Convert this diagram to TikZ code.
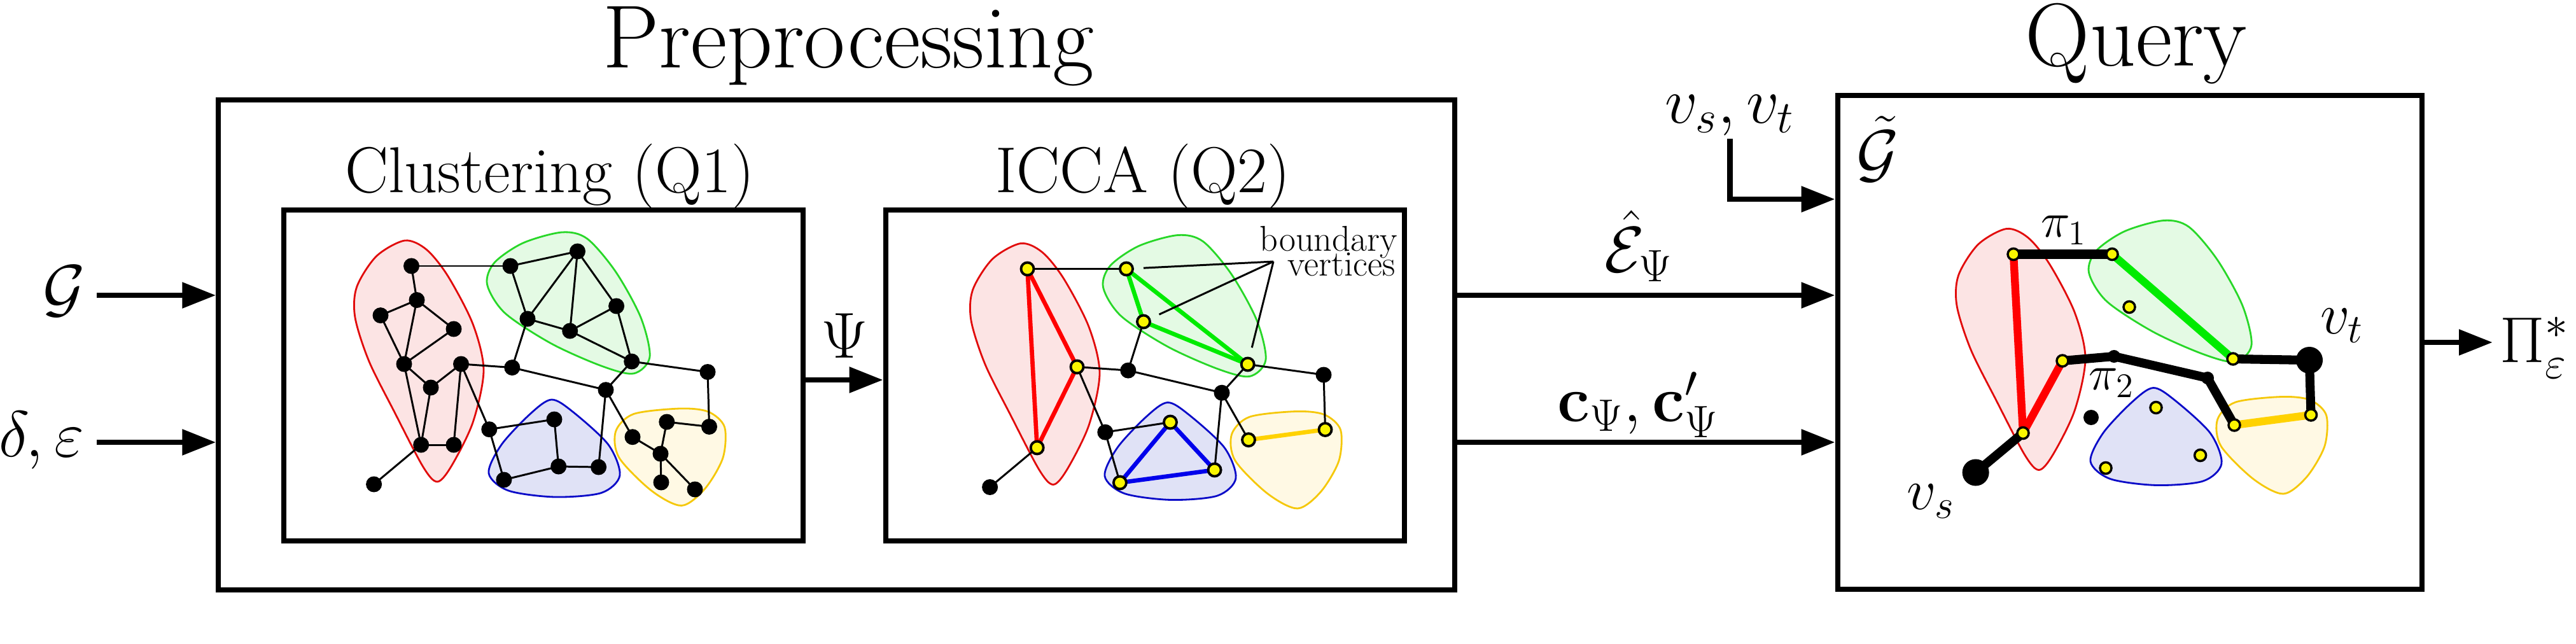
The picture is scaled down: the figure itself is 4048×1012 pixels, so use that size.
\RequirePackage{fix-cm}
\documentclass[tikz,border=0pt]{standalone}
\usetikzlibrary{arrows.meta,calc}
\definecolor{redS}{RGB}{225,10,10}
\definecolor{redF}{RGB}{252,228,228}
\definecolor{greenS}{RGB}{40,215,40}
\definecolor{greenF}{RGB}{228,250,228}
\definecolor{blueS}{RGB}{10,10,200}
\definecolor{blueF}{RGB}{224,226,246}
\definecolor{yelS}{RGB}{245,200,10}
\definecolor{yelF}{RGB}{255,249,228}
\definecolor{redE}{RGB}{255,0,0}
\definecolor{greenE}{RGB}{0,235,0}
\definecolor{blueE}{RGB}{0,0,235}
\definecolor{yelE}{RGB}{255,210,0}
\definecolor{nodeY}{RGB}{250,245,0}
\pgfdeclarelayer{blobl}
\pgfdeclarelayer{edgel}
\pgfsetlayers{blobl,edgel,main}
\newcommand\myblobs{%
\begin{pgfonlayer}{blobl}
\filldraw[blob,draw=redS,fill=redF] plot[smooth cycle] coordinates {(636,378) (591.5,402.6) (560.6,451) (558,499) (580,568) (619.6,647) (664.5,733) (687,757) (709,733) (743,664) (760,582) (743,509) (703.7,433.6) (670,392)};
\filldraw[blob,draw=greenS,fill=greenF] plot[smooth cycle] coordinates {(883,365) (821.6,382) (776.7,413) (765.5,447) (793.5,492) (866.5,540) (945,575) (995.5,587) (1021,561) (1007,499) (967.5,427) (922.6,375)};
\filldraw[blob,draw=blueS,fill=blueF] plot[smooth cycle] coordinates {(866.5,628) (833,650.6) (788,698.8) (768,743.6) (799,771) (872,781) (945,774.5) (974,747) (956,698.8) (900,647)};
\filldraw[blob,draw=yelS,fill=yelF] plot[smooth cycle] coordinates {(1068.5,642) (995.6,650.6) (967.5,678) (973,719.4) (1023.6,771) (1071,794.5) (1108,767.7) (1136,719.4) (1138.6,671) (1113,647)};
\end{pgfonlayer}}
\def\boundarylist{a1/646.5/418, a6/724.5/572, a8/661.7/699, g1/802/418, g3/829/501, g6/992.7/568, b1/871/659, b3/940.6/734, b4/791.9/754, y1/994/686.7, y3/1114.5/670.5}
\def\outsidelist{a10/587.6/761, m1/804.8/577.6, m2/952/612.7, m3/1112/584.5, b0/768.8/674.7}
\def\interiorlist{a2/655/471.5, a3/598/495.6, a4/713/517, a5/635/572, a7/677/609, a9/713/699, g2/907.5/395, g4/968.6/481, g5/895.7/520, b2/877.7/733, y2/1047.8/663, y4/1038/713, y5/1039/758, y6/1092/769}
\begin{document}
\begin{tikzpicture}[x=0.01cm,y=-0.01cm,
  every node/.style={font=\fontsize{29}{34}\selectfont,inner sep=0pt},
  titlef/.style={font=\fontsize{40}{48}\selectfont},
  box/.style={draw,line width=2.3pt,inner sep=0pt},
  arr/.style={line width=2.5pt,-{Triangle[length=0.53cm,width=0.39cm]}},
  ce/.style={line width=0.85pt},
  bk/.style={circle,fill=black,inner sep=0pt,minimum size=0.25cm},
  yb/.style={circle,fill=nodeY,draw=black,line width=1.1pt,inner sep=0pt,minimum size=0.2cm},
  qy/.style={circle,fill=nodeY,draw=black,line width=1pt,inner sep=0pt,minimum size=0.18cm},
  blob/.style={line width=0.8pt},
  icol/.style={line width=1.9pt},
  qpath/.style={line width=4pt,line cap=round,line join=round},
  qcol/.style={line width=3.5pt,line cap=round}]
\useasboundingbox (0,0) rectangle (4048,1012);
% titles
\node[titlef,anchor=base] (t1) at (1333,106) {Preprocessing};
\node[titlef,anchor=base] (t2) at (3357,103) {Query};
% boxes
\node[box,minimum width=19.41cm,minimum height=7.70cm] (pre) at (1314.5,542) {};
\node[box,minimum width=8.16cm,minimum height=5.2cm] (clu) at (854,590) {};
\node[box,minimum width=8.15cm,minimum height=5.2cm] (icca) at (1799.5,590) {};
\node[box,minimum width=9.18cm,minimum height=7.76cm] (qry) at (3347,538) {};
\node[anchor=base] (clut) at (864,302) {Clustering (Q1)};
\node[anchor=base] (iccat) at (1796,302) {ICCA (Q2)};
% clustering graph
\begin{scope}[name prefix=c-]
\myblobs
\foreach \n/\x/\y in \boundarylist {\node[bk] (\n) at (\x,\y) {};}
\foreach \n/\x/\y in \outsidelist {\node[bk] (\n) at (\x,\y) {};}
\foreach \n/\x/\y in \interiorlist {\node[bk] (\n) at (\x,\y) {};}
\begin{pgfonlayer}{edgel}
\foreach \a/\b in {a1/g1,a1/a2,a2/a3,a2/a4,a2/a5,a3/a5,a4/a5,a5/a7,a5/a8,a7/a6,a7/a8,a6/a9,a8/a9,a8/a10,a6/m1,a6/b0,g1/g2,g1/g3,g2/g3,g2/g5,g2/g4,g3/g5,g4/g5,g4/g6,g5/g6,g3/m1,m1/m2,m2/g6,g6/m3,m3/y3,m2/b3,m2/y1,b0/b1,b0/b4,b1/b2,b2/b4,b2/b3,y1/y4,y2/y3,y2/y4,y4/y5,y4/y6}
  {\draw[ce] (\a.center) -- (\b.center);}
\end{pgfonlayer}
\end{scope}
% ICCA graph
\begin{scope}[shift={(968,4.5)},name prefix=i-]
\myblobs
\foreach \n/\x/\y in \boundarylist {\node[yb] (\n) at (\x,\y) {};}
\foreach \n/\x/\y in \outsidelist {\node[bk] (\n) at (\x,\y) {};}
\begin{pgfonlayer}{edgel}
\foreach \a/\b in {a1/g1,g3/m1,a6/m1,m1/m2,m2/g6,g6/m3,m3/y3,a6/b0,b0/b1,b0/b4,m2/b3,m2/y1,a8/a10}
  {\draw[ce] (\a.center) -- (\b.center);}
\foreach \a/\b in {a1/a6,a1/a8,a6/a8} {\draw[icol,redE] (\a.center) -- (\b.center);}
\foreach \a/\b in {g1/g3,g1/g6,g3/g6} {\draw[icol,greenE] (\a.center) -- (\b.center);}
\foreach \a/\b in {b1/b3,b1/b4,b4/b3} {\draw[icol,blueE] (\a.center) -- (\b.center);}
\draw[icol,yelE] (y1.center) -- (y3.center);
\end{pgfonlayer}
\end{scope}
% boundary vertices label
\node[anchor=base east,font=\fontsize{16}{19}\selectfont] (bd1) at (2196,394) {boundary};
\node[anchor=base east,font=\fontsize{16}{19}\selectfont] (bd2) at (2193,433) {vertices};
\coordinate (bvo) at (2001,411);
\foreach \t in {i-g1,i-g3,i-g6} {\draw[ce,shorten >=0.27cm] (bvo) -- (\t.center);}
% query graph
\begin{scope}[name prefix=q-]
\begin{scope}[shift={(2517,-18.5)}]
\myblobs
\end{scope}
\foreach \n/\x/\y in {a1/3164/399.5, g1/3319/399.5, g3/3346/482.5, a6/3241/567, g6/3509/564, y3/3631.5/652, y1/3511/668, a8/3179/680.5, b1/3388/640.5, b3/3457.6/715.5, b4/3309/735.5}
  {\node[qy] (\n) at (\x,\y) {};}
\node[bk,minimum size=0.2cm] (m1) at (3322,560) {};
\node[bk,minimum size=0.2cm] (m2) at (3469,594) {};
\node[bk,minimum size=0.24cm] (b0) at (3286,656) {};
\node[bk,minimum size=0.42cm] (vs) at (3104.6,742.5) {};
\node[bk,minimum size=0.42cm] (vt) at (3629,566) {};
\begin{pgfonlayer}{edgel}
\foreach \a/\b in {vs/a8,a1/g1,g6/vt,a6/m1,m1/m2,m2/y1,y3/vt} {\draw[qpath] (\a.center) -- (\b.center);}
\draw[qcol,redE] (a8.center) -- (a1.center);
\draw[qcol,redE] (a8.center) -- (a6.center);
\draw[qcol,greenE] (g1.center) -- (g6.center);
\draw[qcol,yelE] (y1.center) -- (y3.center);
\end{pgfonlayer}
\end{scope}
\node[anchor=north west] (gt) at (2917,182) {$\tilde{\mathcal{G}}$};
\node[font=\fontsize{22}{26}\selectfont] (p1) at (3243,362) {$\pi_1$};
\node[font=\fontsize{22}{26}\selectfont] (p2) at (3318,602) {$\pi_2$};
\node[font=\fontsize{26}{31}\selectfont] (lvt) at (3680,512) {$v_t$};
\node[font=\fontsize{26}{31}\selectfont] (lvs) at (3034,788) {$v_s$};
% inputs
\coordinate (rowA) at (0,464);
\coordinate (rowB) at (0,695);
\node[anchor=east,inner xsep=0.17cm,inner ysep=0pt] (G) at (152,458) {$\mathcal{G}$};
\node[anchor=base east,inner xsep=0.19cm,inner ysep=0pt] (de) at (152,717) {$\delta,\varepsilon$};
\draw[arr] (G.east |- rowA) -- (pre.west |- rowA);
\draw[arr] (de.east |- rowB) -- (pre.west |- rowB);
% Psi
\node[anchor=base] (psi) at (1327,562) {$\Psi$};
\draw[arr] ([yshift=-0.07cm]clu.east) -- ([yshift=-0.07cm]icca.west);
% preprocessing -> query
\node[anchor=base] (eh) at (2575,427) {$\hat{\mathcal{E}}_\Psi$};
\node[anchor=base] (cl) at (2574,662) {$\mathbf{c}_\Psi,\mathbf{c}'_\Psi$};
\draw[arr] (pre.east |- rowA) -- (qry.west |- rowA);
\draw[arr] (pre.east |- rowB) -- (qry.west |- rowB);
% vs, vt input
\node[anchor=base] (vst) at (2718,193) {$v_s,v_t$};
\coordinate (vsttop) at (2718.6,218);
\coordinate (vstrow) at (0,313);
\draw[arr] (vsttop) |- (qry.west |- vstrow);
% output
\node[anchor=base west] (Pi) at (3928,569) {$\Pi^*_\varepsilon$};
\draw[arr,shorten >=0.11cm] (qry.east) -- (Pi.west |- qry.east);
\end{tikzpicture}
\end{document}
